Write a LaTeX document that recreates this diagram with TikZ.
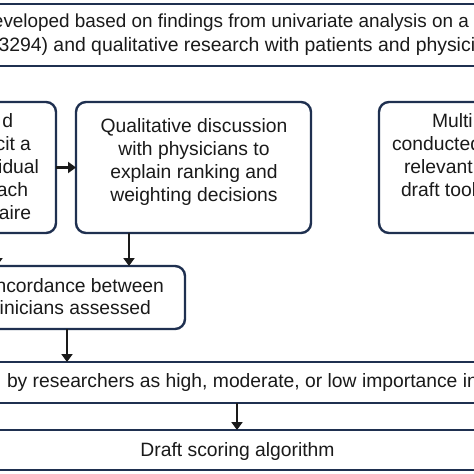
\documentclass[tikz,border=0pt]{standalone}
\usepackage{fontspec}
\setmainfont{Liberation Sans}
\usetikzlibrary{arrows.meta}
\definecolor{navy}{HTML}{1F3050}
\definecolor{ink}{HTML}{1A1A1A}
\begin{document}
\begin{tikzpicture}[x=1pt,y=-1pt,
  every node/.style={inner sep=0pt,outer sep=0pt},
  txt/.style={font=\fontsize{19.3}{23}\selectfont, text=ink},
  sqbox/.style={draw=navy, line width=2.4pt, fill=white},
  rbox/.style={draw=navy, line width=2.4pt, fill=white, rounded corners=10pt},
  arr/.style={draw=ink, line width=2.8pt, -{Triangle[length=8pt,width=11pt]}}]
\useasboundingbox (0,0) rectangle (474,474);
\fill[white] (0,0) rectangle (474,474);
\clip (0,0) rectangle (474,474);
% boxes
\node[sqbox, minimum width=540pt, minimum height=62pt] (top) at (237,35) {};
\node[rbox, minimum width=206pt, minimum height=131pt] (left) at (-47,167.5) {};
\node[rbox, minimum width=235pt, minimum height=131pt] (qual) at (193.5,167.5) {};
\node[rbox, minimum width=241pt, minimum height=131pt] (right) at (499.5,167.5) {};
\node[rbox, minimum width=385pt, minimum height=63pt] (conc) at (-7.5,297.5) {};
\node[sqbox, minimum width=540pt, minimum height=41pt] (res) at (237,382.5) {};
\node[sqbox, minimum width=540pt, minimum height=40pt] (draft) at (237,450) {};
% texts
\node[txt, font=\fontsize{18.9}{23}\selectfont, anchor=base west] (t1) at (-7,27) {eveloped based on findings from univariate analysis on a};
\node[txt, font=\fontsize{19.4}{23}\selectfont, anchor=base west] (t2) at (-1.5,51) {3294) and qualitative research with patients and physici};
\node[txt, anchor=base east] (l1) at (13,127) {d};
\node[txt, anchor=base east] (l2) at (31,150) {cit a};
\node[txt, anchor=base east] (l3) at (39,173) {idual};
\node[txt, anchor=base east] (l4) at (28,196) {ach};
\node[txt, anchor=base east] (l5) at (31,219) {aire};
\node[txt, align=center] (qt) at (194,162.5) {Qualitative discussion\\with physicians to\\explain ranking and\\weighting decisions};
\node[txt, anchor=base west] (r1) at (432,127) {Multi};
\node[txt, anchor=base west] (r2) at (392,150) {conducted};
\node[txt, anchor=base west] (r3) at (404,173) {relevant};
\node[txt, anchor=base west] (r4) at (401,196) {draft tool};
\node[txt, anchor=base east] (c1) at (164,292) {ncordance between};
\node[txt, anchor=base east] (c2) at (151,314) {inicians assessed};
\node[txt, anchor=base west] (rt) at (7,387) {by researchers as high, moderate, or low importance in};
\node[txt, anchor=base] (dt) at (237.5,456) {Draft scoring algorithm};
% connector columns
\coordinate (xa) at (-3,0);
\coordinate (xb) at (129,0);
\coordinate (xc) at (67,0);
\coordinate (xd) at (237,0);
% connectors
\draw[arr] (left.east) -- (qual.west);
\draw[arr] (left.south -| xa) -- (conc.north -| xa);
\draw[arr] (qual.south -| xb) -- (conc.north -| xb);
\draw[arr] (conc.south -| xc) -- (res.north -| xc);
\draw[arr] (res.south -| xd) -- (draft.north -| xd);
\end{tikzpicture}
\end{document}
